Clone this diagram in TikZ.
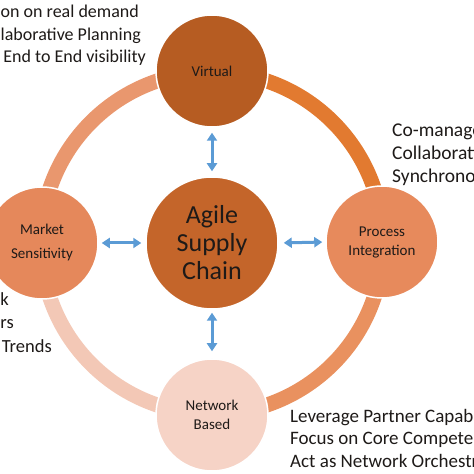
\documentclass[tikz,border=0pt]{standalone}
\usepackage{fontspec}
\setmainfont{Carlito}
\usetikzlibrary{arrows.meta}
\definecolor{ringA}{HTML}{E27A30}
\definecolor{ringB}{HTML}{E9915F}
\definecolor{ringC}{HTML}{F3C8B6}
\definecolor{ringD}{HTML}{E9976E}
\definecolor{fillV}{HTML}{B65C22}
\definecolor{fillC}{HTML}{C4652A}
\definecolor{fillP}{HTML}{E78A5C}
\definecolor{fillM}{HTML}{E5885B}
\definecolor{fillN}{HTML}{F6D3C6}
\definecolor{arrowblue}{HTML}{5B9BD5}
\definecolor{txt}{HTML}{1E1A18}
\tikzset{
  ringarc/.style={line width=15pt},
  satellite/.style={circle, draw=white, line width=1.5pt, minimum size=112pt, inner sep=0pt,
    align=center, text=txt, font=\fontsize{15}{19}\selectfont},
  hub/.style={circle, draw=white, line width=1.5pt, minimum size=132pt, inner sep=0pt,
    align=center, text=txt, font=\fontsize{26}{28}\selectfont},
  link/.style={draw=arrowblue, line width=3pt,
    {Triangle[width=10pt,length=8pt]}-{Triangle[width=10pt,length=8pt]}},
  sidetext/.style={text=txt, inner sep=0pt}
}
\begin{document}
\begin{tikzpicture}[x=1pt,y=1pt]
\useasboundingbox (0,0) rectangle (474,474);
\clip (0,0) rectangle (474,474);
\fill[white] (0,0) rectangle (474,474);
\coordinate (O) at (212,231);
% ring
\draw[ringarc, ringA] ([shift={(90:171)}]O) arc[start angle=90, end angle=0, radius=171];
\draw[ringarc, ringB] ([shift={(0:171)}]O) arc[start angle=0, end angle=-90, radius=171];
\draw[ringarc, ringC] ([shift={(-90:171)}]O) arc[start angle=-90, end angle=-180, radius=171];
\draw[ringarc, ringD] ([shift={(180:171)}]O) arc[start angle=180, end angle=90, radius=171];
% circles
\node[hub, fill=fillC] (C) at (212,231) {Agile\\Supply\\Chain};
\node[satellite, fill=fillV] (V) at (212,403) {Virtual};
\node[satellite, fill=fillP] (P) at (382,232) {Process\\Integration};
\node[satellite, fill=fillM] (M) at (42,231) {Market\\[5pt]Sensitivity};
\node[satellite, fill=fillN] (N) at (212,59) {Network\\Based};
% arrows
\draw[link, shorten <=5pt, shorten >=5pt] (V.south) -- (C.north);
\draw[link, shorten <=3pt, shorten >=4pt] (M.east) -- (C.west);
\draw[link, shorten <=5pt, shorten >=3pt] (C.east) -- (P.west);
\draw[link, shorten <=3pt, shorten >=7pt] (C.south) -- (N.north);
% side texts
\begin{scope}[every node/.append style={font=\fontsize{18}{22}\selectfont}]
\node[sidetext, anchor=base west] (t1) at (0.5,456) {on on real demand};
\node[sidetext, anchor=base east] (t2) at (141,433) {Collaborative Planning};
\node[sidetext, anchor=base east] (t3) at (146,411) {End to End visibility};
\end{scope}
\begin{scope}[every node/.append style={font=\fontsize{19.5}{23}\selectfont}]
\node[sidetext, anchor=base west] (r1) at (392,337) {Co-managed};
\node[sidetext, anchor=base west] (r2) at (392,314) {Collaborative};
\node[sidetext, anchor=base west] (r3) at (392,291) {Synchronous};
\end{scope}
\begin{scope}[every node/.append style={font=\fontsize{18.5}{22}\selectfont}]
\node[sidetext, anchor=base east] (l1) at (9,168) {k};
\node[sidetext, anchor=base east] (l2) at (14,145) {rs};
\node[sidetext, anchor=base east] (l3) at (52,121) {Trends};
\end{scope}
\begin{scope}[every node/.append style={font=\fontsize{19}{22}\selectfont}]
\node[sidetext, anchor=base west] (b1) at (290,51) {Leverage Partner Capability};
\node[sidetext, anchor=base west] (b2) at (290,29) {Focus on Core Competence};
\node[sidetext, anchor=base west] (b3) at (290,6) {Act as Network Orchestrator};
\end{scope}
\end{tikzpicture}
\end{document}
